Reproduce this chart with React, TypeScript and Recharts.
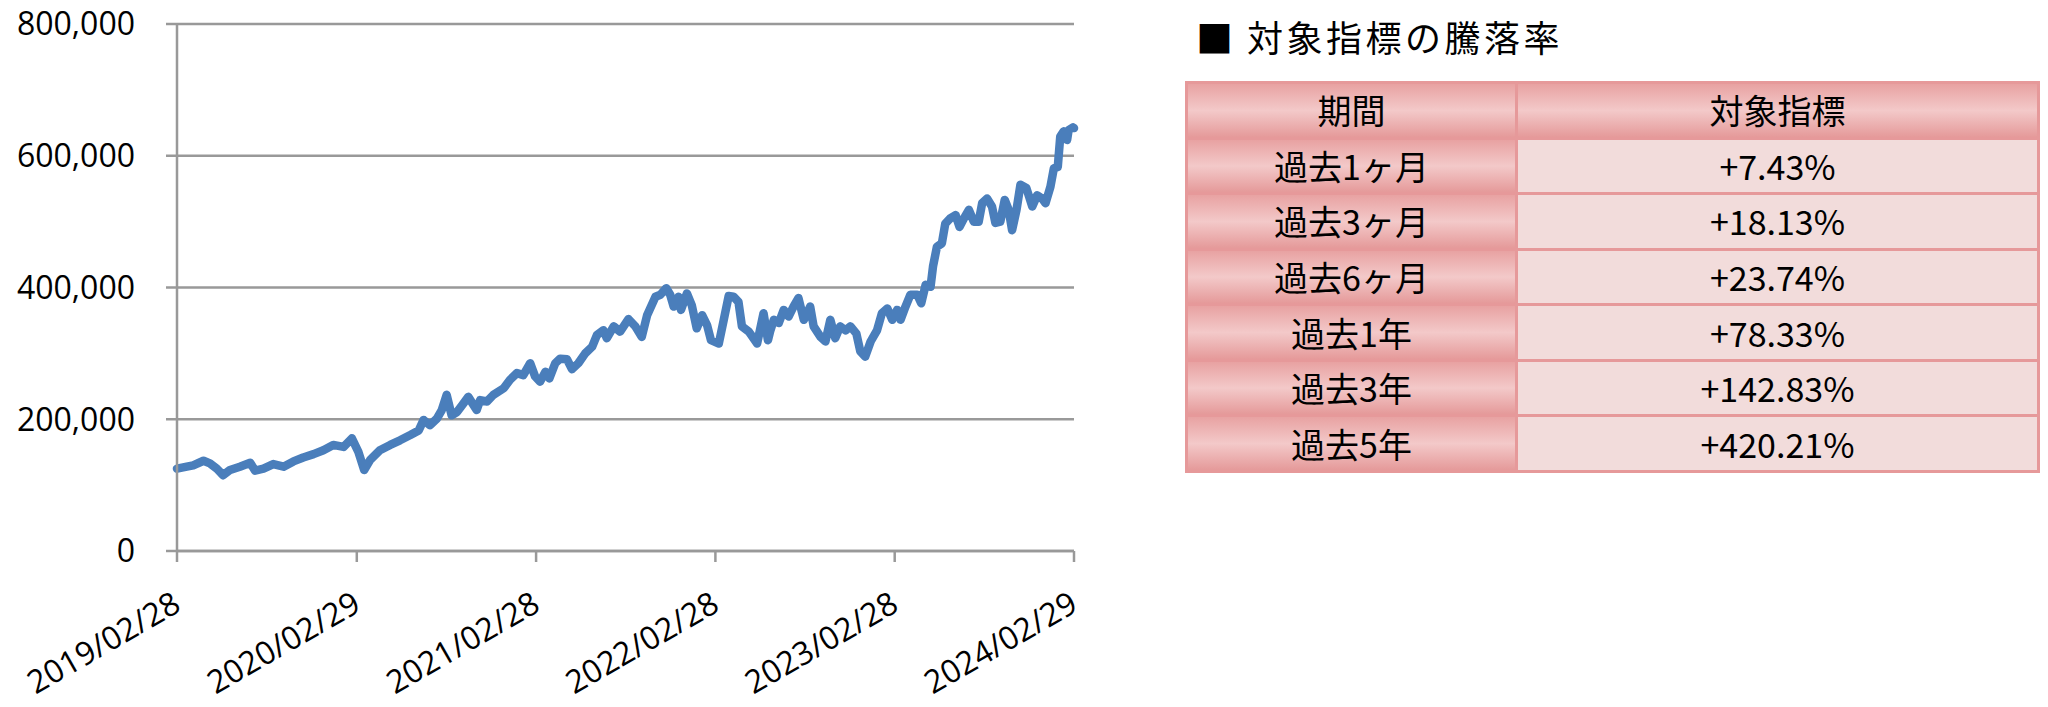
import React from 'react';
import { LineChart, Line, XAxis, YAxis, CartesianGrid } from 'recharts';

// days since 2019/02/28
const days = [
  0, 20, 33, 54, 67, 81, 94, 108, 128, 149, 159, 176, 196, 217, 237, 257, 278, 298, 318, 339,
  356, 369, 381, 393, 413, 434, 454, 475, 492, 502, 515, 529, 539, 549, 559, 570, 580, 593, 610, 617,
  631, 644, 665, 678, 692, 705, 719, 729, 739, 750, 758, 770, 780, 794, 804, 817, 831, 845, 855, 868,
  875, 889, 902, 919, 933, 946, 957, 974, 984, 996, 1004, 1011, 1021, 1026, 1038, 1048, 1058, 1069, 1079, 1087,
  1103, 1113, 1123, 1133, 1143, 1150, 1164, 1181, 1194, 1203, 1208, 1215, 1225, 1235, 1245, 1255, 1265, 1276, 1289, 1296,
  1310, 1320, 1330, 1340, 1350, 1361, 1371, 1383, 1391, 1401, 1412, 1425, 1435, 1446, 1456, 1466, 1473, 1483, 1493, 1507,
  1515, 1524, 1534, 1539, 1547, 1557, 1564, 1574, 1585, 1593, 1602, 1612, 1622, 1632, 1639, 1649, 1659, 1666, 1676, 1685,
  1693, 1700, 1709, 1717, 1729, 1741, 1751, 1761, 1768, 1778, 1785, 1793, 1798, 1805, 1812, 1815, 1824, 1826,
];

const values = [
  125000, 128000, 130000, 137000, 133000, 125000, 115000, 123000, 128000, 134000, 122000, 125000, 132000, 128000, 136000, 142000, 147000, 153000, 161000, 158000,
  171000, 151000, 123000, 138000, 153000, 161000, 168000, 176000, 183000, 199000, 191000, 201000, 214000, 237000, 206000, 211000, 221000, 234000, 214000, 229000,
  227000, 237000, 247000, 260000, 270000, 267000, 285000, 265000, 257000, 272000, 262000, 285000, 292000, 291000, 276000, 285000, 300000, 310000, 328000, 335000,
  323000, 341000, 333000, 352000, 341000, 325000, 358000, 386000, 389000, 399000, 389000, 371000, 386000, 366000, 391000, 373000, 338000, 358000, 343000, 320000,
  315000, 351000, 387000, 386000, 378000, 341000, 333000, 315000, 361000, 320000, 335000, 351000, 346000, 366000, 356000, 371000, 384000, 351000, 371000, 341000,
  325000, 318000, 351000, 323000, 341000, 335000, 341000, 330000, 303000, 295000, 318000, 335000, 361000, 368000, 351000, 366000, 351000, 371000, 389000, 389000,
  376000, 404000, 401000, 432000, 462000, 467000, 497000, 505000, 510000, 492000, 505000, 518000, 500000, 500000, 528000, 535000, 523000, 498000, 500000, 533000,
  518000, 487000, 518000, 556000, 551000, 523000, 540000, 535000, 528000, 553000, 581000, 583000, 629000, 637000, 624000, 639000, 643000, 642000,
];

const tickDays = [0, 366, 731, 1096, 1461, 1826];
const tickLabels = ['2019/02/28', '2020/02/29', '2021/02/28', '2022/02/28', '2023/02/28', '2024/02/29'];
const yTicks = [0, 200000, 400000, 600000, 800000];

const titleText = '対象指標の騰落率';
const headers = ['期間', '対象指標'];
const periods = ['過去1ヶ月', '過去3ヶ月', '過去6ヶ月', '過去1年', '過去3年', '過去5年'];
const returns = ['+7.43%', '+18.13%', '+23.74%', '+78.33%', '+142.83%', '+420.21%'];

const data = days.map((d, i) => ({ day: d, value: values[i] }));

const AXIS_FONT = '"Open Sans", "Noto Sans", sans-serif';
const JP_FONT = '"Noto Sans CJK JP", "Noto Sans CJK SC", sans-serif';

const XTick = (props: any) => {
  const { x, y, payload } = props;
  const idx = tickDays.indexOf(payload.value);
  return (
    <g transform={`translate(${x}, ${y}) rotate(-30)`}>
      <text x={0} y={0} dy="0.355em" textAnchor="end" fontSize={32} fontFamily={AXIS_FONT} fill="#000">
        {idx >= 0 ? tickLabels[idx] : ''}
      </text>
    </g>
  );
};

const gradCell: React.CSSProperties = {
  background: 'linear-gradient(to bottom, #E8A2A2 0%, #F3C9C9 50%, #E59A9A 100%)',
};
const flatCell: React.CSSProperties = {
  background: '#F2DCDB',
};
const cellBase: React.CSSProperties = {
  display: 'flex',
  alignItems: 'center',
  justifyContent: 'center',
  fontFamily: JP_FONT,
  fontSize: 34,
  color: '#000',
  lineHeight: 1,
};

export default function App() {
  return (
    <div style={{ position: 'absolute', left: 0, top: 0, width: 2048, height: 707, background: '#fff' }}>
      <div style={{ position: 'absolute', left: 0, top: 0 }}>
        <LineChart width={1100} height={707} data={data} margin={{ top: 24, right: 26, left: 0, bottom: 16 }}>
          <CartesianGrid horizontal vertical={false} stroke="#999" strokeWidth={2.5} />
          <XAxis
            dataKey="day"
            type="number"
            domain={[0, 1826]}
            ticks={tickDays}
            interval={0}
            height={140}
            tickSize={11}
            tickMargin={38}
            axisLine={{ stroke: '#999', strokeWidth: 2.5 }}
            tickLine={{ stroke: '#999', strokeWidth: 2.5 }}
            tick={<XTick />}
          />
          <YAxis
            type="number"
            domain={[0, 800000]}
            ticks={yTicks}
            interval={0}
            width={177}
            tickSize={11}
            tickMargin={31}
            axisLine={{ stroke: '#999', strokeWidth: 2.5 }}
            tickLine={{ stroke: '#999', strokeWidth: 2.5 }}
            tick={{ fontSize: 32, fontFamily: AXIS_FONT, fill: '#000' }}
            tickFormatter={(v: number) => v.toLocaleString('en-US')}
          />
          <Line
            type="linear"
            dataKey="value"
            stroke="#4A7EBB"
            strokeWidth={8.5}
            dot={false}
            strokeLinejoin="round"
            strokeLinecap="round"
            isAnimationActive={false}
          />
        </LineChart>
      </div>

      <span
        style={{
          position: 'absolute',
          left: 1196,
          top: 19,
          fontFamily: JP_FONT,
          fontSize: 37,
          lineHeight: 1,
          color: '#000',
        }}
      >
        ■
      </span>
      <span
        style={{
          position: 'absolute',
          left: 1247,
          top: 18,
          fontFamily: JP_FONT,
          fontSize: 36,
          letterSpacing: 3.5,
          lineHeight: 1,
          color: '#000',
          whiteSpace: 'nowrap',
        }}
      >
        {titleText}
      </span>

      <div
        style={{
          position: 'absolute',
          left: 1185,
          top: 81,
          width: 855,
          height: 392,
          boxSizing: 'border-box',
          padding: 3,
          background: '#E6999A',
          display: 'grid',
          gridTemplateColumns: '327px 519px',
          gridTemplateRows: 'repeat(7, 1fr)',
          gap: 3,
        }}
      >
        <div style={{ ...cellBase, ...gradCell }}>{headers[0]}</div>
        <div style={{ ...cellBase, ...gradCell }}>{headers[1]}</div>
        {periods.map((p, i) => (
          <React.Fragment key={p}>
            <div style={{ ...cellBase, ...gradCell }}>{p}</div>
            <div style={{ ...cellBase, ...flatCell }}>{returns[i]}</div>
          </React.Fragment>
        ))}
      </div>
    </div>
  );
}
